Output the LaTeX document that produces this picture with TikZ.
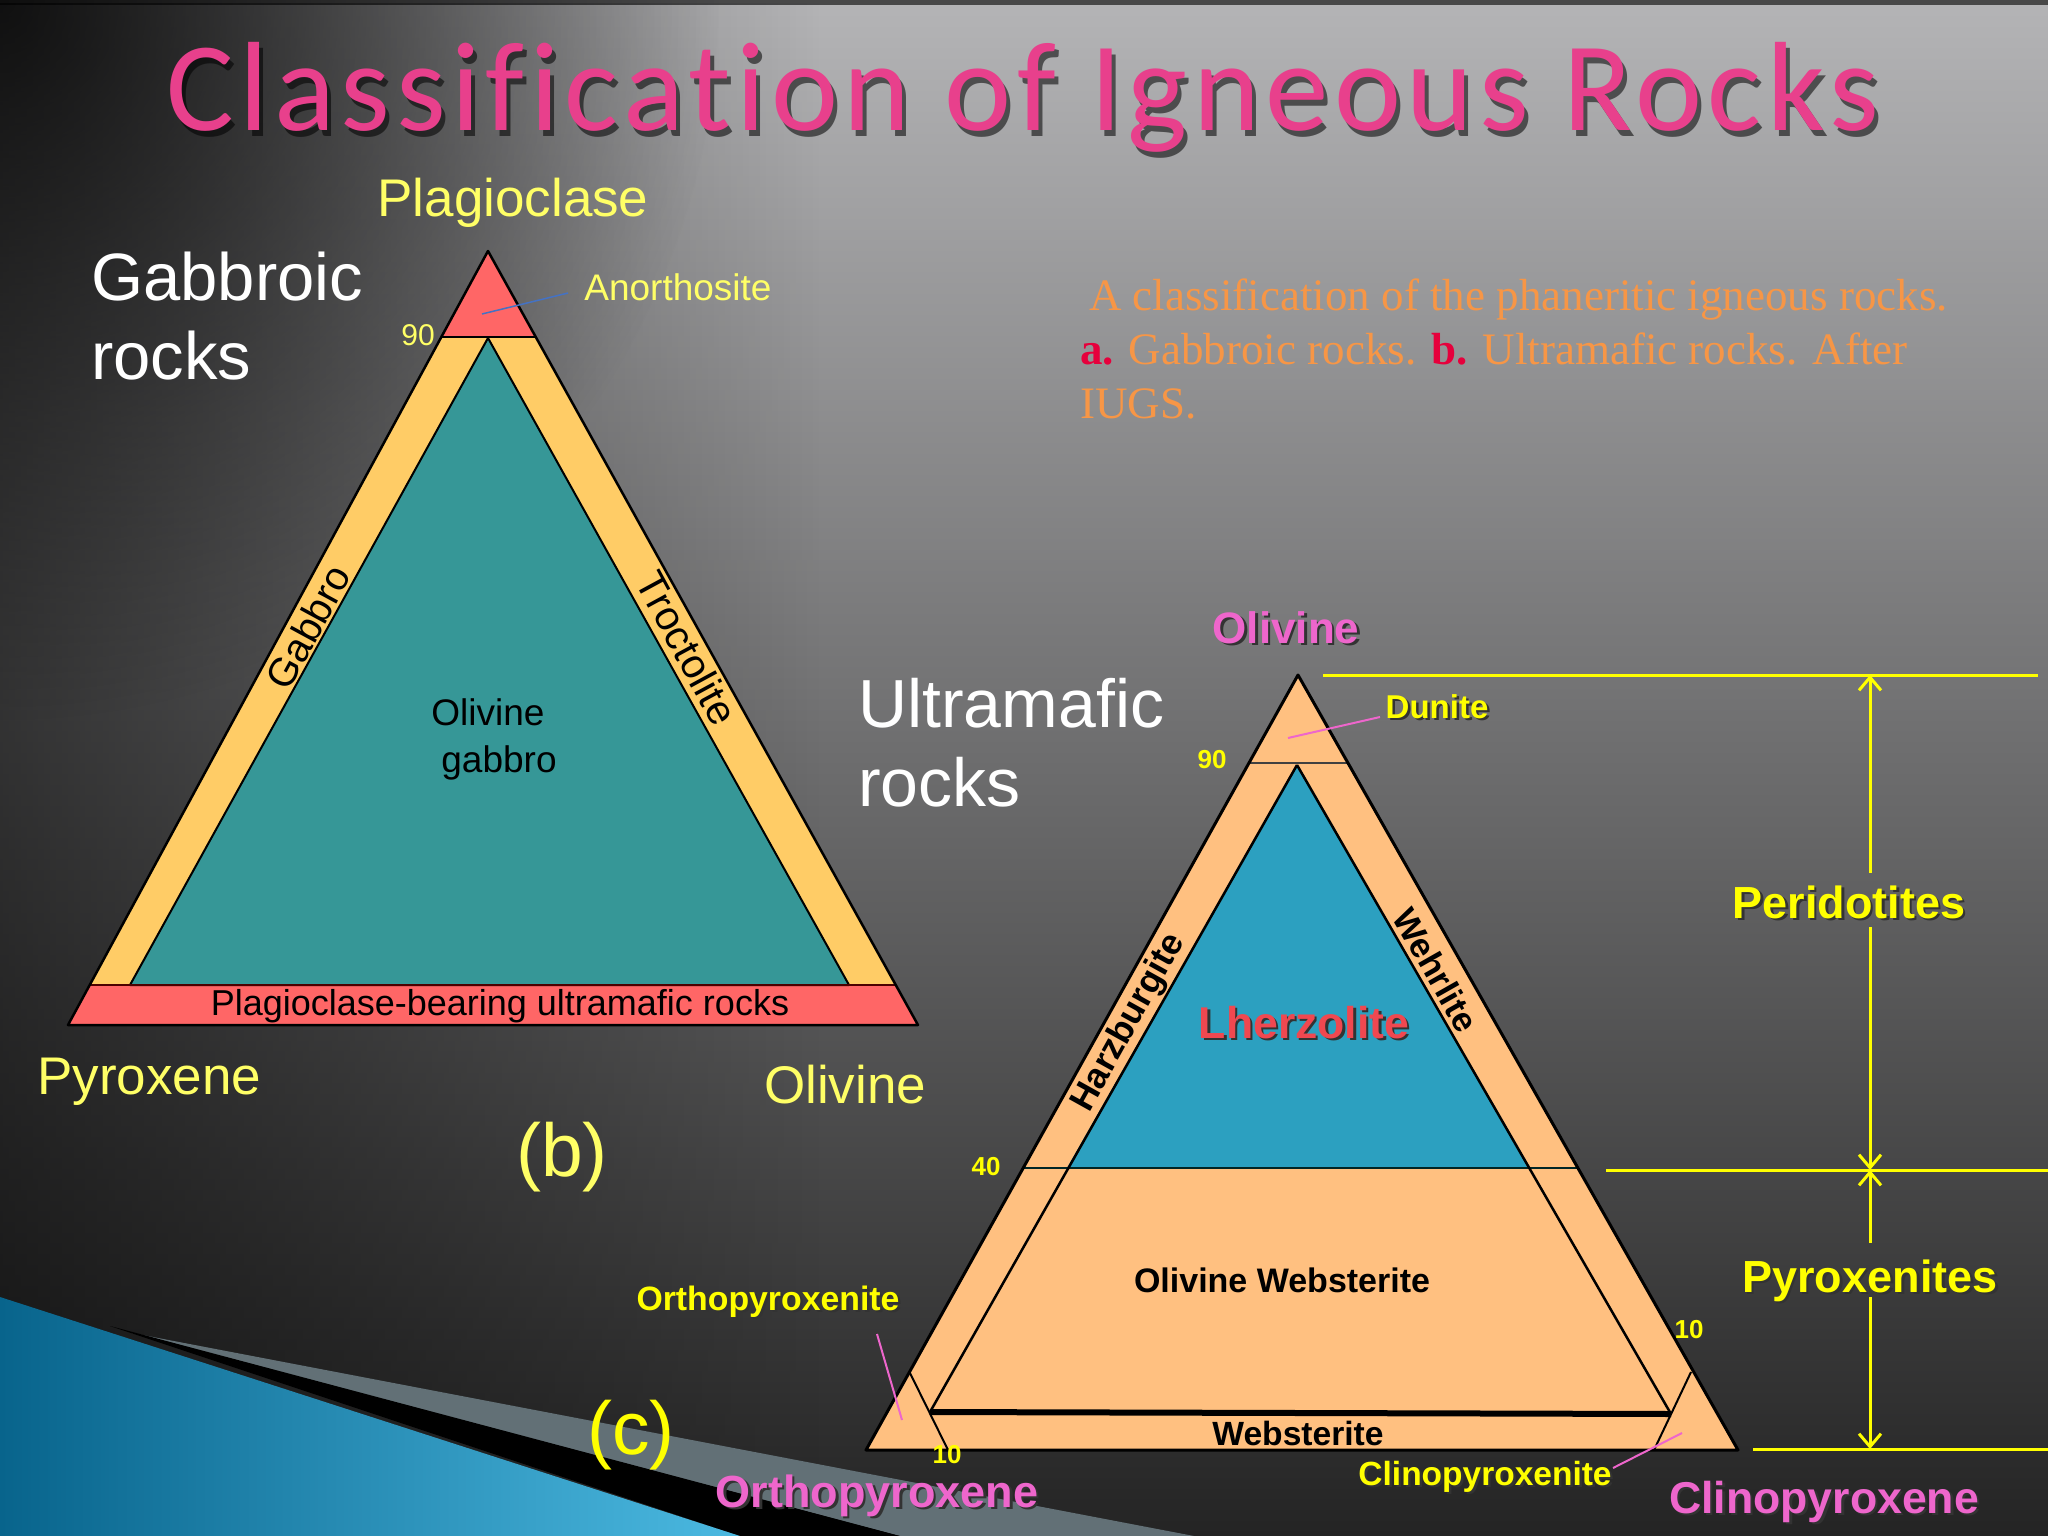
\documentclass[tikz,border=0pt]{standalone}
\usepackage{fontspec}
\setmainfont{Liberation Sans}
\newfontfamily\titlefont[LetterSpace=4.4,Ligatures=NoCommon]{Carlito}
\newfontfamily\capfont{Liberation Serif}
\usetikzlibrary{arrows.meta,fadings}
\definecolor{bgtop}{RGB}{180,180,182}
\definecolor{bgmid}{RGB}{128,128,130}
\definecolor{bgbot}{RGB}{36,36,36}
\definecolor{ltyel}{RGB}{255,255,102}
\definecolor{yel}{RGB}{255,255,0}
\definecolor{bandc}{RGB}{255,204,102}
\definecolor{redf}{RGB}{255,102,102}
\definecolor{tealc}{RGB}{54,151,151}
\definecolor{peach}{RGB}{255,192,128}
\definecolor{bluc}{RGB}{44,160,192}
\definecolor{pinkc}{RGB}{238,102,204}
\definecolor{titlepink}{RGB}{232,64,140}
\definecolor{lherzc}{RGB}{240,72,80}
\definecolor{orng}{RGB}{247,150,70}
\definecolor{crim}{RGB}{230,0,60}
\definecolor{decogrey}{RGB}{98,112,118}
\definecolor{bluedark}{RGB}{8,100,140}
\definecolor{bluelight}{RGB}{75,185,225}
\definecolor{leadblue}{RGB}{68,114,196}
\tikzfading[name=leftdark, left color=transparent!45, middle color=transparent!80, right color=transparent!100]
\tikzfading[name=cornerdark, inner color=transparent!20, outer color=transparent!100]
\newcommand{\fsz}[1]{\fontsize{#1}{#1}\selectfont}
\newcommand{\shtxt}[2]{\rlap{\kern2.5pt\raisebox{-2.5pt}{\textcolor{black!80}{#2}}}\textcolor{#1}{#2}}
\begin{document}
\begin{tikzpicture}[x=1pt,y=-1pt,line join=round,
  lbl/.style={inner sep=0pt,anchor=base},
  rlbl/.style={inner sep=0pt,anchor=center},
  leader/.style={line width=2pt},
  ylw/.style={draw=yel,line width=3pt},
  arr/.style={ylw,-{Straight Barb[length=13pt,width=22pt]}}]
\useasboundingbox (0,0) rectangle (2048,1536);
% background
\shade[top color=bgtop,middle color=bgmid,bottom color=bgbot] (0,0) rectangle (2048,1536);
\fill[black,path fading=leftdark] (0,0) rectangle (820,1536);
\fill[black,path fading=cornerdark] (0,0) circle[radius=720];
\fill[black,opacity=0.6] (0,0) rectangle (2048,5);
% bottom-left decoration
\fill[decogrey] (132,1333) -- (1194,1536) -- (900,1536) -- cycle;
\fill[black] (110,1326) -- (900,1536) -- (740,1536) -- cycle;
\shade[left color=bluedark,right color=bluelight] (0,1297) -- (740,1536) -- (0,1536) -- cycle;

% title
\node[lbl,opacity=0.55] (titleS) at (1027,137) {\titlefont\fsz{127}\color{black}Classification of Igneous Rocks};
\node[lbl] (title) at (1023,131) {\titlefont\fsz{127}\color{titlepink}Classification of Igneous Rocks};

% ---------- left diagram (b) ----------
\coordinate (LA) at (488,251);
\coordinate (LB) at (68,1025);
\coordinate (LC) at (918,1025);
\coordinate (capL) at (441.3,337);
\coordinate (capR) at (535.8,337);
\coordinate (rbL) at (89.7,985);
\coordinate (rbR) at (895.8,985);
\coordinate (TA) at (488,338);
\coordinate (TB) at (130,985);
\coordinate (TC) at (849,985);
\fill[bandc] (LA) -- (LB) -- (LC) -- cycle;
\fill[redf] (LA) -- (capL) -- (capR) -- cycle;
\fill[redf] (rbL) -- (rbR) -- (LC) -- (LB) -- cycle;
\filldraw[fill=tealc,draw=black,line width=2pt] (TA) -- (TB) -- (TC) -- cycle;
\draw[black,line width=2pt] (capL) -- (capR);
\draw[black!70!red,line width=1.5pt] (rbL) -- (rbR);
\draw[black,line width=2.5pt] (LA) -- (LB) -- (LC) -- cycle;

\node[lbl] (plag) at (513,216) {\fsz{53}\color{ltyel}Plagioclase};
\node[lbl,anchor=base west] (gabr1) at (91,300) {\fsz{67}\color{white}Gabbroic};
\node[lbl,anchor=base west] (gabr2) at (91,379) {\fsz{67}\color{white}rocks};
\node[lbl] (n90a) at (418,345) {\fsz{30}\color{ltyel}90};
\node[lbl] (anor) at (678,300) {\fsz{37}\color{ltyel}Anorthosite};
\node[rlbl,rotate=61.5] (gab) at (308,627) {\fsz{40}Gabbro};
\node[rlbl,rotate=-61.5] (troc) at (687,648) {\fsz{41}Troctolite};
\node[lbl] (olg1) at (488,725) {\fsz{37}Olivine};
\node[lbl] (olg2) at (499,772) {\fsz{37}gabbro};
\node[lbl] (pbur) at (500,1015) {\fsz{36}Plagioclase-bearing ultramafic rocks};
\node[lbl,anchor=base west] (pyx) at (37,1094) {\fsz{53}\color{ltyel}Pyroxene};
\node[lbl] (olv) at (845,1103) {\fsz{53}\color{ltyel}Olivine};
\node[lbl] (lb) at (562,1176) {\fsz{75}\color{ltyel}(b)};
\coordinate (anA) at (482,314);
\coordinate (anB) at (568,293);
\draw[leader,leadblue,line width=1.5pt] (anA) -- (anB);

% caption
\node[lbl,anchor=base west] (cap1) at (1089,310) {\capfont\fsz{45}\color{orng}A classification of the phaneritic igneous rocks.};
\node[lbl,anchor=base west] (cap2) at (1080,364) {\capfont\fsz{45}\color{orng}{\color{crim}\bfseries a.} Gabbroic rocks. {\color{crim}\bfseries b.} Ultramafic rocks. After};
\node[lbl,anchor=base west] (cap3) at (1080,418) {\capfont\fsz{45}\color{orng}IUGS.};

% ---------- right diagram (c) ----------
\coordinate (RA) at (1298,675);
\coordinate (RB) at (866,1450);
\coordinate (RC) at (1738,1450);
\coordinate (dcL) at (1249,763);
\coordinate (dcR) at (1348,763);
\coordinate (fL) at (1023,1168);
\coordinate (fR) at (1578,1168);
\coordinate (IA) at (1297,765);
\coordinate (IB) at (1067,1168);
\coordinate (IC) at (1530,1168);
\coordinate (IL) at (930,1412);
\coordinate (IR) at (1671,1414);
\coordinate (tL1) at (910,1373);
\coordinate (tL2) at (948,1450);
\coordinate (tR1) at (1691,1372);
\coordinate (tR2) at (1654,1450);
\fill[peach] (RA) -- (RB) -- (RC) -- cycle;
\fill[bluc] (IA) -- (IB) -- (IC) -- cycle;
\draw[black!75,line width=2.5pt] (dcL) -- (dcR);
\draw[black!70!teal,line width=2.5pt] (fL) -- (fR);
\draw[black,line width=2.5pt] (IA) -- (IL);
\draw[black,line width=2.5pt] (IA) -- (IR);
\draw[black,line width=6pt] (IL) -- (IR);
\draw[black,line width=2pt] (tL1) -- (tL2);
\draw[black,line width=2pt] (tR1) -- (tR2);
\draw[black,line width=3pt] (RA) -- (RB) -- (RC) -- cycle;

\node[lbl] (olvR) at (1286,643) {\fsz{44}\bfseries\shtxt{pinkc}{Olivine}};
\node[lbl] (dun) at (1437,718) {\fsz{33}\bfseries\shtxt{yel}{Dunite}};
\node[lbl] (n90b) at (1212,768) {\fsz{26}\bfseries\color{yel}90};
\node[lbl,anchor=base west] (ultra1) at (858,727) {\fsz{68}\color{white}Ultramafic};
\node[lbl,anchor=base west] (ultra2) at (858,806) {\fsz{68}\color{white}rocks};
\node[rlbl,rotate=60.9] (harz) at (1129,1023) {\fsz{35.5}\bfseries Harzburgite};
\node[rlbl,rotate=-60.4] (wehr) at (1436,970) {\fsz{34.5}\bfseries Wehrlite};
\node[lbl] (lherz) at (1304,1038) {\fsz{44.5}\bfseries\shtxt{lherzc}{Lherzolite}};
\node[lbl] (n40) at (986,1175) {\fsz{26}\bfseries\color{yel}40};
\node[lbl] (olweb) at (1282,1292) {\fsz{34}\bfseries Olivine Websterite};
\node[lbl] (web) at (1298,1445) {\fsz{33.6}\bfseries Websterite};
\node[lbl] (n10a) at (947,1463) {\fsz{26}\bfseries\color{yel}10};
\node[lbl] (n10b) at (1689,1338) {\fsz{26}\bfseries\color{yel}10};
\node[lbl] (opxite) at (768,1310) {\fsz{33.8}\bfseries\shtxt{yel}{Orthopyroxenite}};
\node[lbl] (cpxite) at (1485,1485) {\fsz{33.5}\bfseries\shtxt{yel}{Clinopyroxenite}};
\node[lbl] (lc) at (631,1454) {\fsz{75}\color{yel}(c)};
\node[lbl] (opx) at (877,1507) {\fsz{45}\bfseries\shtxt{pinkc}{Orthopyroxene}};
\node[lbl] (cpx) at (1824,1513) {\fsz{44.6}\bfseries\shtxt{pinkc}{Clinopyroxene}};
\node[lbl] (peri) at (1849,918) {\fsz{45}\bfseries\shtxt{yel}{Peridotites}};
\node[lbl] (pyxs) at (1870,1292) {\fsz{45}\bfseries\shtxt{yel}{Pyroxenites}};

% leaders
\coordinate (dunA) at (1288,738);
\coordinate (dunB) at (1380,717);
\draw[leader,pinkc] (dunB) -- (dunA);
\coordinate (opA) at (877,1334);
\coordinate (opB) at (902,1420);
\draw[leader,pinkc] (opA) -- (opB);
\coordinate (cpA) at (1613,1468);
\coordinate (cpB) at (1682,1433);
\draw[leader,pinkc] (cpA) -- (cpB);

% yellow brackets
\draw[ylw] (1323,675) -- (2038,675);
\draw[ylw] (1606,1170) -- (2048,1170);
\draw[ylw] (1753,1449) -- (2048,1449);
\coordinate (atop) at (1870,675);
\coordinate (amid) at (1870,1170);
\coordinate (abot) at (1870,1449);
\coordinate (g1) at (1870,873);
\coordinate (g2) at (1870,927);
\coordinate (g3) at (1870,1243);
\coordinate (g4) at (1870,1297);
\draw[arr] (g1) -- (atop);
\draw[arr] (g2) -- (amid);
\draw[arr] (g3) -- (amid);
\draw[arr] (g4) -- (abot);
\end{tikzpicture}
\end{document}
